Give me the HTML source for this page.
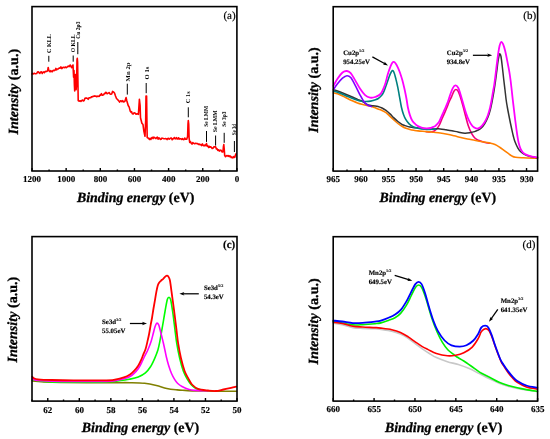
<!DOCTYPE html>
<html><head><meta charset="utf-8"><style>
html,body{margin:0;padding:0;background:#fff;}
svg{display:block;filter:blur(0.3px);}
text{font-family:"Liberation Serif", serif;fill:#000;text-rendering:geometricPrecision;}
</style></head><body>
<svg width="550" height="439" viewBox="0 0 550 439">
<rect width="550" height="439" fill="#fff"/>
<path d="M32.00,74.00 L32.75,73.27 L33.50,73.91 L34.25,73.39 L35.00,73.60 L35.82,73.69 L36.64,73.58 L37.46,72.08 L38.28,71.79 L39.10,72.80 L39.88,73.49 L40.66,71.98 L41.44,71.80 L42.22,73.51 L43.00,72.20 L43.75,71.93 L44.50,72.61 L45.25,71.54 L46.00,71.40 L46.80,71.43 L47.60,70.80 L48.20,67.50 L48.80,70.50 L50.00,71.80 L50.75,70.64 L51.50,71.47 L52.25,71.71 L53.00,70.50 L53.72,70.31 L54.43,70.58 L55.15,70.16 L55.87,68.45 L56.58,69.87 L57.30,69.00 L58.20,68.99 L59.10,68.06 L60.00,68.30 L60.90,66.91 L61.80,68.64 L62.70,67.50 L63.63,67.27 L64.57,67.69 L65.50,67.00 L66.40,67.61 L67.30,66.91 L68.20,66.10 L69.20,66.56 L70.20,65.00 L71.60,67.70 L72.30,66.00 L73.00,65.00 L73.60,77.30 L74.00,70.50 L74.40,85.00 L74.70,91.00 L75.10,76.00 L75.40,74.60 L75.80,88.00 L76.10,89.60 L76.60,84.10 L77.00,60.00 L77.30,58.20 L77.60,62.00 L77.90,80.00 L78.20,100.50 L79.10,101.20 L80.00,100.71 L80.90,101.46 L81.80,100.50 L82.59,100.07 L83.37,100.95 L84.16,100.51 L84.94,98.33 L85.73,98.13 L86.51,98.02 L87.30,98.40 L88.20,99.28 L89.10,97.78 L90.00,97.70 L90.72,97.74 L91.44,96.70 L92.16,96.94 L92.88,96.39 L93.60,96.40 L94.31,95.89 L95.02,96.29 L95.73,96.14 L96.44,96.75 L97.16,96.06 L97.87,96.50 L98.58,96.17 L99.29,96.33 L100.00,95.00 L100.71,95.16 L101.42,93.68 L102.13,95.10 L102.84,95.09 L103.56,94.69 L104.27,93.63 L104.98,93.72 L105.69,92.26 L106.40,92.70 L107.12,93.74 L107.84,93.36 L108.56,92.90 L109.28,92.61 L110.00,93.90 L110.85,94.25 L111.70,94.08 L112.55,91.41 L113.40,91.90 L114.50,93.00 L115.50,96.00 L116.50,98.47 L117.50,99.50 L118.55,100.59 L119.60,102.10 L120.38,100.91 L121.15,100.91 L121.92,101.70 L122.70,100.70 L123.75,101.94 L124.80,101.40 L126.10,97.60 L126.80,100.70 L128.20,105.50 L129.20,107.16 L130.20,111.00 L130.90,112.17 L131.60,111.71 L132.30,113.70 L133.20,113.99 L134.10,112.83 L135.00,113.00 L136.05,114.26 L137.10,113.70 L138.40,114.40 L139.40,99.30 L140.10,105.50 L140.50,117.80 L141.20,120.55 L141.90,123.30 L143.00,124.60 L143.90,131.40 L145.00,136.20 L145.70,120.00 L146.00,96.00 L146.60,96.00 L146.90,120.00 L147.20,137.60 L147.95,137.95 L148.70,138.30 L149.43,139.45 L150.15,138.31 L150.88,139.50 L151.61,137.84 L152.33,137.28 L153.06,138.54 L153.79,137.18 L154.51,137.57 L155.24,138.08 L155.97,138.57 L156.69,137.47 L157.42,137.20 L158.15,139.18 L158.87,137.85 L159.60,138.30 L160.34,139.42 L161.09,139.29 L161.83,138.07 L162.57,138.29 L163.31,138.46 L164.06,138.77 L164.80,138.68 L165.54,138.61 L166.29,138.78 L167.03,139.57 L167.77,138.55 L168.51,138.39 L169.26,139.11 L170.00,138.60 L170.71,137.98 L171.43,138.15 L172.14,139.79 L172.86,138.71 L173.57,138.79 L174.29,137.51 L175.00,138.50 L175.71,138.91 L176.43,137.58 L177.14,139.02 L177.86,139.07 L178.57,137.72 L179.29,139.09 L180.00,138.80 L180.79,138.78 L181.57,139.34 L182.36,138.62 L183.14,139.53 L183.93,139.66 L184.71,138.00 L185.50,139.20 L186.70,139.30 L187.60,136.50 L188.00,124.00 L188.30,120.50 L188.70,124.00 L189.10,138.00 L189.70,142.50 L190.46,141.60 L191.21,143.24 L191.97,144.08 L192.73,142.53 L193.49,143.18 L194.24,143.67 L195.00,143.60 L195.71,143.31 L196.43,143.56 L197.14,143.58 L197.86,143.86 L198.57,144.54 L199.29,143.98 L200.00,144.60 L200.80,144.45 L201.60,145.54 L202.40,143.89 L203.20,145.34 L204.00,145.88 L204.80,145.00 L205.60,145.60 L206.50,143.60 L207.20,146.30 L207.90,145.86 L208.60,147.48 L209.30,146.35 L210.00,147.20 L210.72,146.72 L211.45,147.59 L212.18,148.50 L212.90,148.30 L213.80,146.84 L214.70,146.87 L215.60,146.80 L216.40,149.00 L217.12,148.90 L217.84,150.40 L218.56,149.75 L219.28,151.05 L220.00,150.50 L220.72,150.08 L221.45,150.86 L222.18,151.99 L222.90,152.00 L223.40,147.00 L223.80,144.60 L224.30,150.00 L224.70,155.60 L225.52,156.70 L226.35,155.83 L227.18,155.47 L228.00,156.30 L228.80,155.53 L229.60,156.65 L230.40,155.98 L231.20,157.60 L232.00,157.00 L232.90,157.95 L233.80,156.51 L234.70,157.40 L235.50,155.00 L236.00,153.80" stroke="#FF0000" stroke-width="1.6" fill="none" stroke-linejoin="round" stroke-linecap="round"/>
<rect x="32" y="6.6" width="204.9" height="164.4" fill="none" stroke="#000" stroke-width="1.6"/>
<text x="237.00" y="181.9" font-size="9.0" font-weight="bold" stroke="#000" stroke-width="0.15" text-anchor="middle">0</text>
<text x="202.85" y="181.9" font-size="9.0" font-weight="bold" stroke="#000" stroke-width="0.15" text-anchor="middle">200</text>
<text x="168.70" y="181.9" font-size="9.0" font-weight="bold" stroke="#000" stroke-width="0.15" text-anchor="middle">400</text>
<text x="134.55" y="181.9" font-size="9.0" font-weight="bold" stroke="#000" stroke-width="0.15" text-anchor="middle">600</text>
<text x="100.40" y="181.9" font-size="9.0" font-weight="bold" stroke="#000" stroke-width="0.15" text-anchor="middle">800</text>
<text x="66.25" y="181.9" font-size="9.0" font-weight="bold" stroke="#000" stroke-width="0.15" text-anchor="middle">1000</text>
<text x="32.10" y="181.9" font-size="9.0" font-weight="bold" stroke="#000" stroke-width="0.15" text-anchor="middle">1200</text>
<path d="M236.90,171.00V168.00 M219.82,171.00V169.40 M202.75,171.00V168.00 M185.68,171.00V169.40 M168.60,171.00V168.00 M151.53,171.00V169.40 M134.45,171.00V168.00 M117.38,171.00V169.40 M100.30,171.00V168.00 M83.22,171.00V169.40 M66.15,171.00V168.00 M49.08,171.00V169.40 M32.00,171.00V168.00" stroke="#000" stroke-width="1.4" fill="none"/>
<text x="77" y="201.8" font-size="14" font-weight="bold" stroke="#000" stroke-width="0.3" textLength="117.3" lengthAdjust="spacingAndGlyphs"><tspan font-style="italic">Binding energy </tspan>(eV)</text>
<text transform="translate(17.9,134.6) rotate(-90)" font-size="14" font-weight="bold" stroke="#000" stroke-width="0.3" textLength="85.8" lengthAdjust="spacingAndGlyphs"><tspan font-style="italic">Intensity </tspan>(a.u.)</text>
<text x="235.6" y="18.7" font-size="11" text-anchor="end" stroke="#000" stroke-width="0.2">(a)</text>
<text transform="translate(50.69,53.0) rotate(-90)" font-size="6.0" font-weight="bold" textLength="18.900000000000002" lengthAdjust="spacingAndGlyphs">C KLL</text>
<path d="M48.8,55.8V61.7" stroke="#000" stroke-width="1.0"/>
<text transform="translate(74.79,52.3) rotate(-90)" font-size="6.0" font-weight="bold" textLength="17.700000000000003" lengthAdjust="spacingAndGlyphs">O KLL</text>
<path d="M73.2,55.5V61.7" stroke="#000" stroke-width="1.0"/>
<text transform="translate(79.79,38.8) rotate(-90)" font-size="6.0" font-weight="bold" textLength="17.3" lengthAdjust="spacingAndGlyphs">Cu 2p3</text>
<path d="M77.8,42.0V54.2" stroke="#000" stroke-width="1.0"/>
<text transform="translate(129.99,81.4) rotate(-90)" font-size="6.0" font-weight="bold" textLength="18.900000000000002" lengthAdjust="spacingAndGlyphs">Mn 2p</text>
<path d="M127.3,83.7V94.6" stroke="#000" stroke-width="1.0"/>
<text transform="translate(148.69,79.4) rotate(-90)" font-size="6.0" font-weight="bold" textLength="12.799999999999999" lengthAdjust="spacingAndGlyphs">O 1s</text>
<path d="M146.2,83.0V93.2" stroke="#000" stroke-width="1.0"/>
<text transform="translate(190.09,103.2) rotate(-90)" font-size="6.0" font-weight="bold" textLength="11.799999999999999" lengthAdjust="spacingAndGlyphs">C 1s</text>
<path d="M188.3,107.3V117.3" stroke="#000" stroke-width="1.0"/>
<text transform="translate(208.29,126.8) rotate(-90)" font-size="6.0" font-weight="bold" textLength="20.900000000000002" lengthAdjust="spacingAndGlyphs">Se LMM</text>
<path d="M206.5,131V141.9" stroke="#000" stroke-width="1.0"/>
<text transform="translate(217.39,132.3) rotate(-90)" font-size="6.0" font-weight="bold" textLength="21.900000000000002" lengthAdjust="spacingAndGlyphs">Se LMM</text>
<path d="M215.6,135.5V145.6" stroke="#000" stroke-width="1.0"/>
<text transform="translate(225.99,126.8) rotate(-90)" font-size="6.0" font-weight="bold" textLength="15.4" lengthAdjust="spacingAndGlyphs">Se 3p3</text>
<path d="M224.2,132.8V142.8" stroke="#000" stroke-width="1.0"/>
<text transform="translate(236.19,135.0) rotate(-90)" font-size="6.0" font-weight="bold" textLength="10.9" lengthAdjust="spacingAndGlyphs">Se 3d</text>
<path d="M234.4,141V152" stroke="#000" stroke-width="1.0"/>
<path d="M426.00,131.60 C426.67,131.67 428.83,132.00 430.00,132.00 C431.17,132.00 432.17,131.87 433.00,131.60 C433.83,131.33 434.35,130.88 435.00,130.40 C435.65,129.92 436.17,129.60 436.90,128.70 C437.63,127.80 438.58,126.57 439.40,125.00 C440.22,123.43 440.98,121.20 441.80,119.30 C442.62,117.40 443.47,115.52 444.30,113.60 C445.13,111.68 445.97,109.82 446.80,107.80 C447.63,105.78 448.50,103.37 449.30,101.50 C450.10,99.63 450.82,98.32 451.60,96.60 C452.38,94.88 453.28,92.38 454.00,91.20 C454.72,90.02 455.20,89.48 455.90,89.50 C456.60,89.52 457.48,90.12 458.20,91.30 C458.92,92.48 459.48,94.45 460.20,96.60 C460.92,98.75 461.73,101.47 462.50,104.20 C463.27,106.93 463.83,109.40 464.80,113.00 C465.77,116.60 467.15,122.35 468.30,125.80 C469.45,129.25 470.57,131.62 471.70,133.70 C472.83,135.78 473.97,137.20 475.10,138.30 C476.23,139.40 476.98,139.65 478.50,140.30 C480.02,140.95 482.28,141.70 484.20,142.20 C486.12,142.70 489.03,143.12 490.00,143.30" stroke="#F0007A" stroke-width="1.6" fill="none" stroke-linejoin="round" stroke-linecap="round"/>
<path d="M333.50,92.80 C334.17,92.97 335.97,93.27 337.50,93.80 C339.03,94.33 340.95,95.17 342.70,96.00 C344.45,96.83 346.30,97.95 348.00,98.80 C349.70,99.65 351.32,100.40 352.90,101.10 C354.48,101.80 356.02,102.47 357.50,103.00 C358.98,103.53 360.38,103.92 361.80,104.30 C363.22,104.68 364.52,104.98 366.00,105.30 C367.48,105.62 369.28,105.83 370.70,106.20 C372.12,106.57 373.28,107.03 374.50,107.50 C375.72,107.97 376.75,108.52 378.00,109.00 C379.25,109.48 380.67,109.78 382.00,110.40 C383.33,111.02 384.67,111.72 386.00,112.70 C387.33,113.68 388.68,115.10 390.00,116.30 C391.32,117.50 392.58,118.70 393.90,119.90 C395.22,121.10 396.57,122.43 397.90,123.50 C399.23,124.57 400.57,125.50 401.90,126.30 C403.23,127.10 404.57,127.77 405.90,128.30 C407.23,128.83 408.57,129.17 409.90,129.50 C411.23,129.83 412.55,130.07 413.90,130.30 C415.25,130.53 415.85,130.68 418.00,130.90 C420.15,131.12 424.20,131.37 426.80,131.60 C429.40,131.83 431.37,132.07 433.60,132.30 C435.83,132.53 437.92,132.67 440.20,133.00 C442.48,133.33 445.00,133.83 447.30,134.30 C449.60,134.77 451.73,135.27 454.00,135.80 C456.27,136.33 458.65,136.97 460.90,137.50 C463.15,138.03 465.22,138.53 467.50,139.00 C469.78,139.47 472.35,139.88 474.60,140.30 C476.85,140.72 478.57,141.07 481.00,141.50 C483.43,141.93 486.87,142.40 489.20,142.90 C491.53,143.40 493.20,143.73 495.00,144.50 C496.80,145.27 498.50,146.52 500.00,147.50 C501.50,148.48 502.68,149.45 504.00,150.40 C505.32,151.35 506.62,152.28 507.90,153.20 C509.18,154.12 510.42,155.22 511.70,155.90 C512.98,156.58 513.67,156.98 515.60,157.30 C517.53,157.62 519.65,157.65 523.30,157.80 C526.95,157.95 535.13,158.13 537.50,158.20" stroke="#FF8000" stroke-width="1.6" fill="none" stroke-linejoin="round" stroke-linecap="round"/>
<path d="M333.50,89.70 C335.03,90.25 339.47,91.75 342.70,93.00 C345.93,94.25 350.35,96.10 352.90,97.20 C355.45,98.30 356.52,98.97 358.00,99.60 C359.48,100.23 360.63,100.40 361.80,101.00 C362.97,101.60 363.93,102.55 365.00,103.20 C366.07,103.85 366.87,104.47 368.20,104.90 C369.53,105.33 371.37,105.55 373.00,105.80 C374.63,106.05 376.50,106.03 378.00,106.40 C379.50,106.77 380.67,107.33 382.00,108.00 C383.33,108.67 384.67,109.42 386.00,110.40 C387.33,111.38 388.68,112.65 390.00,113.90 C391.32,115.15 392.58,116.63 393.90,117.90 C395.22,119.17 396.57,120.43 397.90,121.50 C399.23,122.57 400.57,123.57 401.90,124.30 C403.23,125.03 404.57,125.43 405.90,125.90 C407.23,126.37 408.57,126.80 409.90,127.10 C411.23,127.40 412.55,127.55 413.90,127.70 C415.25,127.85 415.85,127.83 418.00,128.00 C420.15,128.17 424.13,128.55 426.80,128.70 C429.47,128.85 431.77,128.87 434.00,128.90 C436.23,128.93 438.20,128.75 440.20,128.90 C442.20,129.05 444.05,129.48 446.00,129.80 C447.95,130.12 449.90,130.43 451.90,130.80 C453.90,131.17 455.85,131.60 458.00,132.00 C460.15,132.40 462.72,133.10 464.80,133.20 C466.88,133.30 468.88,132.87 470.50,132.60 C472.12,132.33 473.33,131.97 474.50,131.60 C475.67,131.23 476.42,130.95 477.50,130.40 C478.58,129.85 479.78,129.45 481.00,128.30 C482.22,127.15 483.63,125.38 484.80,123.50 C485.97,121.62 487.05,119.42 488.00,117.00 C488.95,114.58 489.80,111.67 490.50,109.00 C491.20,106.33 491.62,104.00 492.20,101.00 C492.78,98.00 493.45,94.33 494.00,91.00 C494.55,87.67 495.03,84.33 495.50,81.00 C495.97,77.67 496.38,74.25 496.80,71.00 C497.22,67.75 497.63,64.00 498.00,61.50 C498.37,59.00 498.70,57.28 499.00,56.00 C499.30,54.72 499.47,53.72 499.80,53.80 C500.13,53.88 500.57,54.22 501.00,56.50 C501.43,58.78 501.93,63.58 502.40,67.50 C502.87,71.42 503.37,76.25 503.80,80.00 C504.23,83.75 504.62,86.75 505.00,90.00 C505.38,93.25 505.72,96.67 506.10,99.50 C506.48,102.33 506.85,104.42 507.30,107.00 C507.75,109.58 508.30,112.42 508.80,115.00 C509.30,117.58 509.80,120.08 510.30,122.50 C510.80,124.92 511.30,127.25 511.80,129.50 C512.30,131.75 512.80,134.05 513.30,136.00 C513.80,137.95 514.03,139.18 514.80,141.20 C515.57,143.22 516.87,146.30 517.90,148.10 C518.93,149.90 519.83,150.90 521.00,152.00 C522.17,153.10 523.48,153.98 524.90,154.70 C526.32,155.42 527.40,155.78 529.50,156.30 C531.60,156.82 536.17,157.55 537.50,157.80" stroke="#333333" stroke-width="1.5" fill="none" stroke-linejoin="round" stroke-linecap="round"/>
<path d="M333.50,91.00 C334.17,91.22 335.97,91.75 337.50,92.30 C339.03,92.85 340.95,93.58 342.70,94.30 C344.45,95.02 346.30,95.90 348.00,96.60 C349.70,97.30 351.32,97.90 352.90,98.50 C354.48,99.10 356.02,99.73 357.50,100.20 C358.98,100.67 360.38,101.08 361.80,101.30 C363.22,101.52 364.52,101.53 366.00,101.50 C367.48,101.47 369.28,101.35 370.70,101.10 C372.12,100.85 373.23,100.43 374.50,100.00 C375.77,99.57 377.13,99.25 378.30,98.50 C379.47,97.75 380.63,96.53 381.50,95.50 C382.37,94.47 382.92,93.45 383.50,92.30 C384.08,91.15 384.30,90.48 385.00,88.60 C385.70,86.72 386.87,83.33 387.70,81.00 C388.53,78.67 389.23,76.35 390.00,74.60 C390.77,72.85 391.62,70.80 392.30,70.50 C392.98,70.20 393.50,71.37 394.10,72.80 C394.70,74.23 395.28,76.68 395.90,79.10 C396.52,81.52 397.27,84.73 397.80,87.30 C398.33,89.87 398.70,92.30 399.10,94.50 C399.50,96.70 399.80,98.33 400.20,100.50 C400.60,102.67 400.95,105.17 401.50,107.50 C402.05,109.83 402.77,112.47 403.50,114.50 C404.23,116.53 404.97,118.13 405.90,119.70 C406.83,121.27 407.90,122.73 409.10,123.90 C410.30,125.07 411.62,125.97 413.10,126.70 C414.58,127.43 416.02,127.87 418.00,128.30 C419.98,128.73 422.67,129.13 425.00,129.30 C427.33,129.47 430.17,129.30 432.00,129.30 C433.83,129.30 435.33,129.30 436.00,129.30" stroke="#008080" stroke-width="1.6" fill="none" stroke-linejoin="round" stroke-linecap="round"/>
<path d="M333.50,89.40 C334.17,88.47 336.00,85.67 337.50,83.80 C339.00,81.93 340.93,79.55 342.50,78.20 C344.07,76.85 345.53,75.82 346.90,75.70 C348.27,75.58 349.33,75.93 350.70,77.50 C352.07,79.07 353.53,82.17 355.10,85.10 C356.67,88.03 358.65,92.38 360.10,95.10 C361.55,97.82 362.55,99.73 363.80,101.40 C365.05,103.07 366.33,104.27 367.60,105.10 C368.87,105.93 370.77,106.18 371.40,106.40" stroke="#8000FF" stroke-width="1.6" fill="none" stroke-linejoin="round" stroke-linecap="round"/>
<path d="M333.50,85.80 C334.17,84.63 336.00,81.02 337.50,78.80 C339.00,76.58 340.93,73.80 342.50,72.50 C344.07,71.20 345.53,70.88 346.90,71.00 C348.27,71.12 349.33,71.68 350.70,73.20 C352.07,74.72 353.53,77.50 355.10,80.10 C356.67,82.70 358.43,86.30 360.10,88.80 C361.77,91.30 363.43,93.63 365.10,95.10 C366.77,96.57 368.43,97.28 370.10,97.60 C371.77,97.92 373.32,97.67 375.10,97.00 C376.88,96.33 379.15,95.67 380.80,93.60 C382.45,91.53 383.85,87.77 385.00,84.60 C386.15,81.43 386.78,77.63 387.70,74.60 C388.62,71.57 389.73,68.38 390.50,66.40 C391.27,64.42 391.75,63.47 392.30,62.70 C392.85,61.93 393.27,61.72 393.80,61.80 C394.33,61.88 394.83,62.28 395.50,63.20 C396.17,64.12 397.05,65.70 397.80,67.30 C398.55,68.90 399.25,70.67 400.00,72.80 C400.75,74.93 401.62,77.68 402.30,80.10 C402.98,82.52 403.57,85.03 404.10,87.30 C404.63,89.57 405.07,91.58 405.50,93.70 C405.93,95.82 406.30,97.70 406.70,100.00 C407.10,102.30 407.37,104.98 407.90,107.50 C408.43,110.02 409.17,112.90 409.90,115.10 C410.63,117.30 411.37,119.17 412.30,120.70 C413.23,122.23 414.47,123.35 415.50,124.30 C416.53,125.25 417.22,125.77 418.50,126.40 C419.78,127.03 421.78,127.77 423.20,128.10 C424.62,128.43 425.78,128.42 427.00,128.40 C428.22,128.38 429.58,128.22 430.50,128.00 C431.42,127.78 431.70,127.45 432.50,127.10 C433.30,126.75 434.28,126.65 435.30,125.90 C436.32,125.15 437.65,123.97 438.60,122.60 C439.55,121.23 440.18,119.47 441.00,117.70 C441.82,115.93 442.75,113.70 443.50,112.00 C444.25,110.30 444.78,109.17 445.50,107.50 C446.22,105.83 447.03,104.08 447.80,102.00 C448.57,99.92 449.27,97.32 450.10,95.00 C450.93,92.68 451.90,89.70 452.80,88.10 C453.70,86.50 454.60,85.47 455.50,85.40 C456.40,85.33 457.38,86.27 458.20,87.70 C459.02,89.13 459.62,91.53 460.40,94.00 C461.18,96.47 461.97,99.33 462.90,102.50 C463.83,105.67 465.02,110.07 466.00,113.00 C466.98,115.93 467.77,117.97 468.80,120.10 C469.83,122.23 471.25,124.55 472.20,125.80 C473.15,127.05 473.65,127.13 474.50,127.60 C475.35,128.07 476.32,128.67 477.30,128.60 C478.28,128.53 479.22,128.23 480.40,127.20 C481.58,126.17 483.20,124.27 484.40,122.40 C485.60,120.53 486.67,118.40 487.60,116.00 C488.53,113.60 489.33,110.67 490.00,108.00 C490.67,105.33 491.05,103.00 491.60,100.00 C492.15,97.00 492.85,92.58 493.30,90.00 C493.75,87.42 493.92,87.12 494.30,84.50 C494.68,81.88 495.17,77.82 495.60,74.30 C496.03,70.78 496.45,66.98 496.90,63.40 C497.35,59.82 497.83,55.82 498.30,52.80 C498.77,49.78 499.20,47.13 499.70,45.30 C500.20,43.47 500.73,41.98 501.30,41.80 C501.87,41.62 502.45,42.67 503.10,44.20 C503.75,45.73 504.52,48.27 505.20,51.00 C505.88,53.73 506.52,57.17 507.20,60.60 C507.88,64.03 508.73,68.28 509.30,71.60 C509.87,74.92 510.20,77.43 510.60,80.50 C511.00,83.57 511.33,86.75 511.70,90.00 C512.07,93.25 512.42,96.67 512.80,100.00 C513.18,103.33 513.60,106.67 514.00,110.00 C514.40,113.33 514.80,116.83 515.20,120.00 C515.60,123.17 516.03,126.33 516.40,129.00 C516.77,131.67 517.02,133.67 517.40,136.00 C517.78,138.33 518.17,140.85 518.70,143.00 C519.23,145.15 519.83,147.27 520.60,148.90 C521.37,150.53 522.20,151.77 523.30,152.80 C524.40,153.83 525.77,154.47 527.20,155.10 C528.63,155.73 530.18,156.22 531.90,156.60 C533.62,156.98 536.57,157.27 537.50,157.40" stroke="#FF00FF" stroke-width="1.8" fill="none" stroke-linejoin="round" stroke-linecap="round"/>
<rect x="333.2" y="6.7" width="204.40000000000003" height="164.4" fill="none" stroke="#000" stroke-width="1.6"/>
<text x="526.65" y="181.9" font-size="9.0" font-weight="bold" stroke="#000" stroke-width="0.15" text-anchor="middle">930</text>
<text x="499.03" y="181.9" font-size="9.0" font-weight="bold" stroke="#000" stroke-width="0.15" text-anchor="middle">935</text>
<text x="471.41" y="181.9" font-size="9.0" font-weight="bold" stroke="#000" stroke-width="0.15" text-anchor="middle">940</text>
<text x="443.79" y="181.9" font-size="9.0" font-weight="bold" stroke="#000" stroke-width="0.15" text-anchor="middle">945</text>
<text x="416.16" y="181.9" font-size="9.0" font-weight="bold" stroke="#000" stroke-width="0.15" text-anchor="middle">950</text>
<text x="388.54" y="181.9" font-size="9.0" font-weight="bold" stroke="#000" stroke-width="0.15" text-anchor="middle">955</text>
<text x="360.92" y="181.9" font-size="9.0" font-weight="bold" stroke="#000" stroke-width="0.15" text-anchor="middle">960</text>
<text x="333.30" y="181.9" font-size="9.0" font-weight="bold" stroke="#000" stroke-width="0.15" text-anchor="middle">965</text>
<path d="M526.55,171.10V168.10 M512.74,171.10V169.50 M498.93,171.10V168.10 M485.12,171.10V169.50 M471.31,171.10V168.10 M457.50,171.10V169.50 M443.69,171.10V168.10 M429.88,171.10V169.50 M416.06,171.10V168.10 M402.25,171.10V169.50 M388.44,171.10V168.10 M374.63,171.10V169.50 M360.82,171.10V168.10 M347.01,171.10V169.50 M333.20,171.10V168.10" stroke="#000" stroke-width="1.4" fill="none"/>
<text x="379.5" y="201.8" font-size="14" font-weight="bold" stroke="#000" stroke-width="0.3" textLength="116.5" lengthAdjust="spacingAndGlyphs"><tspan font-style="italic">Binding energy </tspan>(eV)</text>
<text transform="translate(317.5,132.8) rotate(-90)" font-size="14" font-weight="bold" stroke="#000" stroke-width="0.3" textLength="85.5" lengthAdjust="spacingAndGlyphs"><tspan font-style="italic">Intensity </tspan>(a.u.)</text>
<text x="536.2" y="18.7" font-size="11" text-anchor="end" stroke="#000" stroke-width="0.2">(b)</text>
<text x="343.2" y="54.7" font-size="6.8" font-weight="bold" stroke="#000" stroke-width="0.15">Cu2p<tspan font-size="4.22" dy="-2.86" stroke-width="0.08">1/2</tspan></text>
<text x="343.2" y="63.900000000000006" font-size="6.8" font-weight="bold" stroke="#000" stroke-width="0.15">954.25eV</text>
<path d="M372.40,56.90L385.37,63.96" stroke="#000" stroke-width="1.25" fill="none"/>
<path d="M388.00,65.40L382.77,64.54L384.75,63.63L384.45,61.47Z" fill="#000"/>
<text x="446.8" y="54.7" font-size="6.8" font-weight="bold" stroke="#000" stroke-width="0.15">Cu2p<tspan font-size="4.22" dy="-2.86" stroke-width="0.08">3/2</tspan></text>
<text x="446.8" y="63.900000000000006" font-size="6.8" font-weight="bold" stroke="#000" stroke-width="0.15">934.8eV</text>
<path d="M472.90,55.30L489.20,55.30" stroke="#000" stroke-width="1.25" fill="none"/>
<path d="M492.20,55.30L487.20,57.05L488.50,55.30L487.20,53.55Z" fill="#000"/>
<path d="M32.20,380.90 C35.47,381.13 41.25,382.00 51.80,382.30 C62.35,382.60 84.97,382.63 95.50,382.70 C106.03,382.77 109.28,382.70 115.00,382.70 C120.72,382.70 124.87,382.60 129.80,382.70 C134.73,382.80 140.17,382.83 144.60,383.30 C149.03,383.77 152.70,384.63 156.40,385.50 C160.10,386.37 163.33,387.77 166.80,388.50 C170.27,389.23 174.17,389.58 177.20,389.90 C180.23,390.22 181.95,390.22 185.00,390.40 C188.05,390.58 191.63,390.90 195.50,391.00 C199.37,391.10 204.12,390.97 208.20,391.00 C212.28,391.03 215.28,391.15 220.00,391.20 C224.72,391.25 233.75,391.28 236.50,391.30" stroke="#808000" stroke-width="1.6" fill="none" stroke-linejoin="round" stroke-linecap="round"/>
<path d="M32.20,379.80 C35.47,380.17 41.33,381.60 51.80,382.00 C62.27,382.40 84.47,382.30 95.00,382.20 C105.53,382.10 109.17,381.92 115.00,381.40 C120.83,380.88 126.13,379.83 130.00,379.10 C133.87,378.37 135.63,378.03 138.20,377.00 C140.77,375.97 143.35,374.60 145.40,372.90 C147.45,371.20 148.97,369.18 150.50,366.80 C152.03,364.42 153.37,361.40 154.60,358.60 C155.83,355.80 157.05,352.75 157.90,350.00 C158.75,347.25 159.03,345.48 159.70,342.10 C160.37,338.72 161.30,333.12 161.90,329.70 C162.50,326.28 162.77,324.72 163.30,321.60 C163.83,318.48 164.43,314.68 165.10,311.00 C165.77,307.32 166.65,301.80 167.30,299.50 C167.95,297.20 168.45,297.20 169.00,297.20 C169.55,297.20 170.13,298.03 170.60,299.50 C171.07,300.97 171.38,303.48 171.80,306.00 C172.22,308.52 172.58,310.75 173.10,314.60 C173.62,318.45 174.28,324.25 174.90,329.10 C175.52,333.95 176.00,338.83 176.80,343.70 C177.60,348.57 178.62,353.75 179.70,358.30 C180.78,362.85 182.03,367.52 183.30,371.00 C184.57,374.48 186.02,376.95 187.30,379.20 C188.58,381.45 189.63,383.00 191.00,384.50 C192.37,386.00 194.00,387.37 195.50,388.20 C197.00,389.03 199.25,389.28 200.00,389.50" stroke="#00FF00" stroke-width="1.6" fill="none" stroke-linejoin="round" stroke-linecap="round"/>
<path d="M32.20,378.50 C32.83,378.80 32.73,379.85 36.00,380.30 C39.27,380.75 45.53,381.00 51.80,381.20 C58.07,381.40 64.50,381.45 73.60,381.50 C82.70,381.55 99.50,381.65 106.40,381.50 C113.30,381.35 112.08,381.05 115.00,380.60 C117.92,380.15 121.40,379.48 123.90,378.80 C126.40,378.12 128.30,377.40 130.00,376.50 C131.70,375.60 132.73,374.68 134.10,373.40 C135.47,372.12 137.00,370.48 138.20,368.80 C139.40,367.12 140.25,365.35 141.30,363.30 C142.35,361.25 143.42,358.72 144.50,356.50 C145.58,354.28 146.73,352.40 147.80,350.00 C148.87,347.60 150.02,344.77 150.90,342.10 C151.78,339.43 152.42,336.55 153.10,334.00 C153.78,331.45 154.38,328.62 155.00,326.80 C155.62,324.98 156.20,323.47 156.80,323.10 C157.40,322.73 158.05,323.50 158.60,324.60 C159.15,325.70 159.62,327.88 160.10,329.70 C160.58,331.52 160.97,333.32 161.50,335.50 C162.03,337.68 162.72,340.30 163.30,342.80 C163.88,345.30 164.47,348.05 165.00,350.50 C165.53,352.95 165.92,355.08 166.50,357.50 C167.08,359.92 167.67,362.33 168.50,365.00 C169.33,367.67 170.48,371.12 171.50,373.50 C172.52,375.88 173.60,377.68 174.60,379.30 C175.60,380.92 176.27,382.00 177.50,383.20 C178.73,384.40 180.07,385.45 182.00,386.50 C183.93,387.55 186.85,388.85 189.10,389.50 C191.35,390.15 192.35,390.18 195.50,390.40 C198.65,390.62 205.92,390.73 208.00,390.80" stroke="#FF00FF" stroke-width="1.6" fill="none" stroke-linejoin="round" stroke-linecap="round"/>
<path d="M32.20,376.80 C32.50,377.05 33.03,377.88 34.00,378.30 C34.97,378.72 35.03,379.02 38.00,379.30 C40.97,379.58 45.87,379.82 51.80,380.00 C57.73,380.18 64.50,380.35 73.60,380.40 C82.70,380.45 99.50,380.43 106.40,380.30 C113.30,380.17 112.08,380.08 115.00,379.60 C117.92,379.12 121.40,378.27 123.90,377.40 C126.40,376.53 128.30,375.48 130.00,374.40 C131.70,373.32 132.73,372.35 134.10,370.90 C135.47,369.45 137.00,367.58 138.20,365.70 C139.40,363.82 140.45,361.47 141.30,359.60 C142.15,357.73 142.60,356.22 143.30,354.50 C144.00,352.78 144.83,351.37 145.50,349.30 C146.17,347.23 146.70,344.65 147.30,342.10 C147.90,339.55 148.55,336.80 149.10,334.00 C149.65,331.20 150.12,327.97 150.60,325.30 C151.08,322.63 151.52,320.80 152.00,318.00 C152.48,315.20 153.00,311.52 153.50,308.50 C154.00,305.48 154.52,302.70 155.00,299.90 C155.48,297.10 155.95,294.05 156.40,291.70 C156.85,289.35 157.25,287.28 157.70,285.80 C158.15,284.32 158.57,283.63 159.10,282.80 C159.63,281.97 160.22,281.47 160.90,280.80 C161.58,280.13 162.43,279.53 163.20,278.80 C163.97,278.07 164.85,276.92 165.50,276.40 C166.15,275.88 166.57,275.58 167.10,275.70 C167.63,275.82 168.23,276.33 168.70,277.10 C169.17,277.87 169.55,278.78 169.90,280.30 C170.25,281.82 170.47,283.85 170.80,286.20 C171.13,288.55 171.57,291.93 171.90,294.40 C172.23,296.87 172.35,297.63 172.80,301.00 C173.25,304.37 174.00,309.92 174.60,314.60 C175.20,319.28 175.80,324.25 176.40,329.10 C177.00,333.95 177.43,338.83 178.20,343.70 C178.97,348.57 179.93,353.75 181.00,358.30 C182.07,362.85 183.40,367.67 184.60,371.00 C185.80,374.33 186.97,376.05 188.20,378.30 C189.43,380.55 190.37,382.75 192.00,384.50 C193.63,386.25 195.30,387.80 198.00,388.80 C200.70,389.80 205.23,390.13 208.20,390.50 C211.17,390.87 213.25,391.17 215.80,391.00 C218.35,390.83 220.95,390.02 223.50,389.50 C226.05,388.98 228.98,388.37 231.10,387.90 C233.22,387.43 235.35,386.90 236.20,386.70" stroke="#FF0000" stroke-width="1.8" fill="none" stroke-linejoin="round" stroke-linecap="round"/>
<rect x="32" y="236.6" width="205" height="164.50000000000003" fill="none" stroke="#000" stroke-width="1.6"/>
<text x="237.10" y="412.8" font-size="9.0" font-weight="bold" stroke="#000" stroke-width="0.15" text-anchor="middle">50</text>
<text x="205.56" y="412.8" font-size="9.0" font-weight="bold" stroke="#000" stroke-width="0.15" text-anchor="middle">52</text>
<text x="174.02" y="412.8" font-size="9.0" font-weight="bold" stroke="#000" stroke-width="0.15" text-anchor="middle">54</text>
<text x="142.48" y="412.8" font-size="9.0" font-weight="bold" stroke="#000" stroke-width="0.15" text-anchor="middle">56</text>
<text x="110.95" y="412.8" font-size="9.0" font-weight="bold" stroke="#000" stroke-width="0.15" text-anchor="middle">58</text>
<text x="79.41" y="412.8" font-size="9.0" font-weight="bold" stroke="#000" stroke-width="0.15" text-anchor="middle">60</text>
<text x="47.87" y="412.8" font-size="9.0" font-weight="bold" stroke="#000" stroke-width="0.15" text-anchor="middle">62</text>
<path d="M237.00,401.10V398.10 M221.23,401.10V399.50 M205.46,401.10V398.10 M189.69,401.10V399.50 M173.92,401.10V398.10 M158.15,401.10V399.50 M142.38,401.10V398.10 M126.62,401.10V399.50 M110.85,401.10V398.10 M95.08,401.10V399.50 M79.31,401.10V398.10 M63.54,401.10V399.50 M47.77,401.10V398.10 M32.00,401.10V399.50" stroke="#000" stroke-width="1.4" fill="none"/>
<text x="81.8" y="432.2" font-size="14" font-weight="bold" stroke="#000" stroke-width="0.3" textLength="117.3" lengthAdjust="spacingAndGlyphs"><tspan font-style="italic">Binding energy </tspan>(eV)</text>
<text transform="translate(17.0,362.5) rotate(-90)" font-size="14" font-weight="bold" stroke="#000" stroke-width="0.3" textLength="85.8" lengthAdjust="spacingAndGlyphs"><tspan font-style="italic">Intensity </tspan>(a.u.)</text>
<text x="235.2" y="248.0" font-size="11" text-anchor="end" stroke="#000" stroke-width="0.2" font-weight="bold">(c)</text>
<text x="203.9" y="289.7" font-size="6.8" font-weight="bold" stroke="#000" stroke-width="0.15">Se3d<tspan font-size="4.22" dy="-2.86" stroke-width="0.08">5/2</tspan></text>
<text x="203.9" y="298.9" font-size="6.8" font-weight="bold" stroke="#000" stroke-width="0.15">54.3eV</text>
<path d="M198.80,293.80L182.40,293.80" stroke="#000" stroke-width="1.25" fill="none"/>
<path d="M179.40,293.80L184.40,292.05L183.10,293.80L184.40,295.55Z" fill="#000"/>
<text x="102.1" y="323.8" font-size="6.8" font-weight="bold" stroke="#000" stroke-width="0.15">Se3d<tspan font-size="4.22" dy="-2.86" stroke-width="0.08">3/2</tspan></text>
<text x="102.1" y="333.0" font-size="6.8" font-weight="bold" stroke="#000" stroke-width="0.15">55.05eV</text>
<path d="M129.90,323.50L144.00,323.50" stroke="#000" stroke-width="1.25" fill="none"/>
<path d="M147.00,323.50L142.00,325.25L143.30,323.50L142.00,321.75Z" fill="#000"/>
<path d="M333.30,323.10 C334.80,323.37 339.03,323.95 342.30,324.70 C345.57,325.45 349.50,326.98 352.90,327.60 C356.30,328.22 359.02,328.20 362.70,328.40 C366.38,328.60 371.97,328.63 375.00,328.80 C378.03,328.97 378.10,329.02 380.90,329.40 C383.70,329.78 388.53,330.32 391.80,331.10 C395.07,331.88 397.77,332.88 400.50,334.10 C403.23,335.32 405.65,336.72 408.20,338.40 C410.75,340.08 413.45,342.47 415.80,344.20 C418.15,345.93 420.10,347.30 422.30,348.80 C424.50,350.30 426.65,351.73 429.00,353.20 C431.35,354.67 433.33,356.18 436.40,357.60 C439.47,359.02 443.75,360.55 447.40,361.70 C451.05,362.85 454.67,363.35 458.30,364.50 C461.93,365.65 465.78,367.12 469.20,368.60 C472.62,370.08 475.50,371.73 478.80,373.40 C482.10,375.07 485.62,376.97 489.00,378.60 C492.38,380.23 495.93,381.93 499.10,383.20 C502.27,384.47 504.97,385.33 508.00,386.20 C511.03,387.07 514.23,387.77 517.30,388.40 C520.37,389.03 523.05,389.47 526.40,390.00 C529.75,390.53 535.57,391.33 537.40,391.60" stroke="#C8C8C8" stroke-width="1.6" fill="none" stroke-linejoin="round" stroke-linecap="round"/>
<path d="M333.30,321.50 C334.80,321.75 339.03,322.43 342.30,323.00 C345.57,323.57 349.50,324.62 352.90,324.90 C356.30,325.18 359.02,324.90 362.70,324.70 C366.38,324.50 371.97,324.00 375.00,323.70 C378.03,323.40 378.65,323.45 380.90,322.90 C383.15,322.35 386.15,321.25 388.50,320.40 C390.85,319.55 392.98,318.97 395.00,317.80 C397.02,316.63 398.68,315.52 400.60,313.40 C402.52,311.28 404.75,308.00 406.50,305.10 C408.25,302.20 409.60,298.95 411.10,296.00 C412.60,293.05 414.25,289.23 415.50,287.40 C416.75,285.57 417.58,285.00 418.60,285.00 C419.62,285.00 420.37,285.12 421.60,287.40 C422.83,289.68 424.37,293.78 426.00,298.70 C427.63,303.62 429.58,311.43 431.40,316.90 C433.22,322.37 435.07,327.25 436.90,331.50 C438.73,335.75 440.58,339.37 442.40,342.40 C444.22,345.43 445.98,347.73 447.80,349.70 C449.62,351.67 451.77,352.98 453.30,354.20 C454.83,355.42 455.25,355.87 457.00,357.00 C458.75,358.13 460.85,359.07 463.80,361.00 C466.75,362.93 471.75,366.57 474.70,368.60 C477.65,370.63 478.95,371.72 481.50,373.20 C484.05,374.68 487.07,375.98 490.00,377.50 C492.93,379.02 496.07,380.97 499.10,382.30 C502.13,383.63 505.17,384.58 508.20,385.50 C511.23,386.42 514.27,387.12 517.30,387.80 C520.33,388.48 523.05,389.00 526.40,389.60 C529.75,390.20 535.57,391.10 537.40,391.40" stroke="#00F000" stroke-width="1.6" fill="none" stroke-linejoin="round" stroke-linecap="round"/>
<path d="M333.30,322.30 C334.80,322.50 339.03,322.85 342.30,323.50 C345.57,324.15 349.50,325.62 352.90,326.20 C356.30,326.78 359.02,326.77 362.70,327.00 C366.38,327.23 371.97,327.42 375.00,327.60 C378.03,327.78 378.10,327.75 380.90,328.10 C383.70,328.45 388.53,328.98 391.80,329.70 C395.07,330.42 397.77,331.22 400.50,332.40 C403.23,333.58 405.65,335.15 408.20,336.80 C410.75,338.45 413.45,340.67 415.80,342.30 C418.15,343.93 420.23,345.38 422.30,346.60 C424.37,347.82 425.85,348.45 428.20,349.60 C430.55,350.75 433.20,352.47 436.40,353.50 C439.60,354.53 444.20,355.50 447.40,355.80 C450.60,356.10 452.87,355.80 455.60,355.30 C458.33,354.80 461.07,354.12 463.80,352.80 C466.53,351.48 469.57,349.83 472.00,347.40 C474.43,344.97 476.83,340.85 478.40,338.20 C479.97,335.55 480.18,333.10 481.40,331.50 C482.62,329.90 484.42,328.72 485.70,328.60 C486.98,328.48 487.97,329.15 489.10,330.80 C490.23,332.45 491.35,335.50 492.50,338.50 C493.65,341.50 494.57,344.95 496.00,348.80 C497.43,352.65 499.82,358.75 501.10,361.60 C502.38,364.45 502.52,364.05 503.70,365.90 C504.88,367.75 506.68,370.65 508.20,372.70 C509.72,374.75 511.28,376.60 512.80,378.20 C514.32,379.80 515.03,380.85 517.30,382.30 C519.57,383.75 523.05,385.77 526.40,386.90 C529.75,388.03 535.57,388.73 537.40,389.10" stroke="#FF0000" stroke-width="1.6" fill="none" stroke-linejoin="round" stroke-linecap="round"/>
<path d="M333.30,320.60 C334.80,320.75 339.03,321.08 342.30,321.50 C345.57,321.92 349.50,322.87 352.90,323.10 C356.30,323.33 359.02,323.15 362.70,322.90 C366.38,322.65 371.97,321.98 375.00,321.60 C378.03,321.22 378.65,321.23 380.90,320.60 C383.15,319.97 386.07,318.87 388.50,317.80 C390.93,316.73 393.42,315.57 395.50,314.20 C397.58,312.83 399.18,311.73 401.00,309.60 C402.82,307.47 404.73,304.28 406.40,301.40 C408.07,298.52 409.50,295.18 411.00,292.30 C412.50,289.42 414.13,285.83 415.40,284.10 C416.67,282.37 417.57,281.90 418.60,281.90 C419.63,281.90 420.52,282.22 421.60,284.10 C422.68,285.98 423.92,289.55 425.10,293.20 C426.28,296.85 427.33,301.45 428.70,306.00 C430.07,310.55 431.78,316.35 433.30,320.50 C434.82,324.65 435.92,327.57 437.80,330.90 C439.68,334.23 442.32,338.10 444.60,340.50 C446.88,342.90 448.98,344.27 451.50,345.30 C454.02,346.33 457.20,346.70 459.70,346.70 C462.20,346.70 464.22,346.33 466.50,345.30 C468.78,344.27 471.48,342.35 473.40,340.50 C475.32,338.65 476.67,336.38 478.00,334.20 C479.33,332.02 480.20,328.82 481.40,327.40 C482.60,325.98 484.05,325.70 485.20,325.70 C486.35,325.70 487.22,325.83 488.30,327.40 C489.38,328.97 490.57,332.10 491.70,335.10 C492.83,338.10 493.68,341.42 495.10,345.40 C496.52,349.38 498.77,355.73 500.20,359.00 C501.63,362.27 502.37,362.93 503.70,365.00 C505.03,367.07 506.68,369.43 508.20,371.40 C509.72,373.37 511.28,375.22 512.80,376.80 C514.32,378.38 515.03,379.45 517.30,380.90 C519.57,382.35 523.05,384.35 526.40,385.50 C529.75,386.65 535.57,387.42 537.40,387.80" stroke="#0000FF" stroke-width="1.8" fill="none" stroke-linejoin="round" stroke-linecap="round"/>
<rect x="333.2" y="236.7" width="204.40000000000003" height="164.40000000000003" fill="none" stroke="#000" stroke-width="1.6"/>
<text x="537.70" y="411.8" font-size="9.0" font-weight="bold" stroke="#000" stroke-width="0.15" text-anchor="middle">635</text>
<text x="496.82" y="411.8" font-size="9.0" font-weight="bold" stroke="#000" stroke-width="0.15" text-anchor="middle">640</text>
<text x="455.94" y="411.8" font-size="9.0" font-weight="bold" stroke="#000" stroke-width="0.15" text-anchor="middle">645</text>
<text x="415.06" y="411.8" font-size="9.0" font-weight="bold" stroke="#000" stroke-width="0.15" text-anchor="middle">650</text>
<text x="374.18" y="411.8" font-size="9.0" font-weight="bold" stroke="#000" stroke-width="0.15" text-anchor="middle">655</text>
<text x="333.30" y="411.8" font-size="9.0" font-weight="bold" stroke="#000" stroke-width="0.15" text-anchor="middle">660</text>
<path d="M537.60,401.10V398.10 M517.16,401.10V399.50 M496.72,401.10V398.10 M476.28,401.10V399.50 M455.84,401.10V398.10 M435.40,401.10V399.50 M414.96,401.10V398.10 M394.52,401.10V399.50 M374.08,401.10V398.10 M353.64,401.10V399.50 M333.20,401.10V398.10" stroke="#000" stroke-width="1.4" fill="none"/>
<text x="385" y="431.9" font-size="14" font-weight="bold" stroke="#000" stroke-width="0.3" textLength="117.3" lengthAdjust="spacingAndGlyphs"><tspan font-style="italic">Binding energy </tspan>(eV)</text>
<text transform="translate(317.5,364.4) rotate(-90)" font-size="14" font-weight="bold" stroke="#000" stroke-width="0.3" textLength="86.2" lengthAdjust="spacingAndGlyphs"><tspan font-style="italic">Intensity </tspan>(a.u.)</text>
<text x="535.4" y="247.9" font-size="11" text-anchor="end" stroke="#000" stroke-width="0.2">(d)</text>
<text x="368.7" y="274.7" font-size="6.8" font-weight="bold" stroke="#000" stroke-width="0.15">Mn2p<tspan font-size="4.22" dy="-2.86" stroke-width="0.08">1/2</tspan></text>
<text x="368.7" y="283.9" font-size="6.8" font-weight="bold" stroke="#000" stroke-width="0.15">649.5eV</text>
<path d="M394.70,275.30L409.44,279.91" stroke="#000" stroke-width="1.25" fill="none"/>
<path d="M412.30,280.80L407.01,280.98L408.77,279.70L408.05,277.64Z" fill="#000"/>
<text x="500.7" y="302.9" font-size="6.8" font-weight="bold" stroke="#000" stroke-width="0.15">Mn2p<tspan font-size="4.22" dy="-2.86" stroke-width="0.08">3/2</tspan></text>
<text x="500.7" y="312.09999999999997" font-size="6.8" font-weight="bold" stroke="#000" stroke-width="0.15">641.35eV</text>
<path d="M497.80,309.40L490.74,319.35" stroke="#000" stroke-width="1.25" fill="none"/>
<path d="M489.00,321.80L490.47,316.71L491.14,318.78L493.32,318.74Z" fill="#000"/>
</svg>
</body></html>
